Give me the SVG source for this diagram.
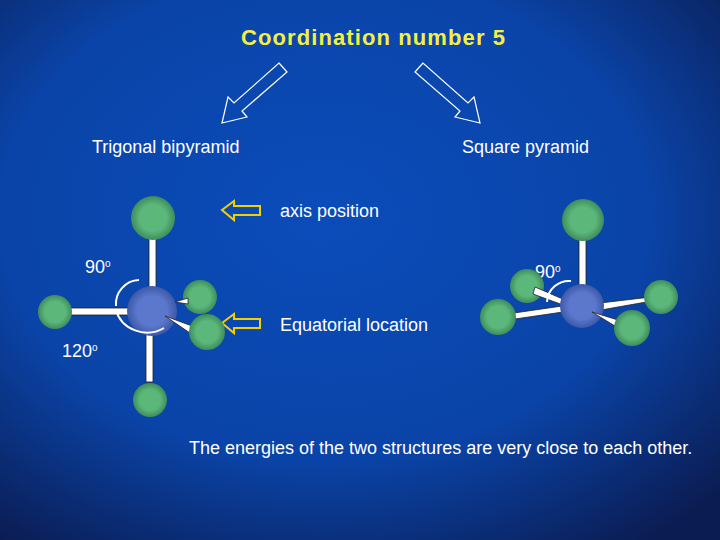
<svg xmlns="http://www.w3.org/2000/svg" width="720" height="540" viewBox="0 0 720 540">
<defs>
<radialGradient id="bg" cx="0.45" cy="0.4" r="0.75">
<stop offset="0" stop-color="#0a4cba"/><stop offset="0.6" stop-color="#0a44a8"/><stop offset="1" stop-color="#0b1c52"/>
</radialGradient>
<radialGradient id="g" cx="0.5" cy="0.5" r="0.5"><stop offset="0.6" stop-color="#5cb87a"/><stop offset="1" stop-color="#3f8c5c"/></radialGradient>
<radialGradient id="b" cx="0.5" cy="0.5" r="0.5"><stop offset="0.6" stop-color="#5c78cc"/><stop offset="1" stop-color="#3d58a8"/></radialGradient>
<style>
text{font-family:"Liberation Sans",Arial,sans-serif;fill:#fff;font-size:18px}
.title{font-size:22px;font-weight:bold;fill:#f5f040}
.bond{fill:#fff;stroke:#222;stroke-width:0.8}
.g{fill:url(#g)}.b{fill:url(#b)}
.arc{fill:none;stroke:#fff;stroke-width:2}
.ya{fill:none;stroke:#f0d000;stroke-width:2}
.wa{fill:none;stroke:#fff;stroke-width:1.2}
</style>
</defs>
<rect width="720" height="540" fill="url(#bg)"/>
<text class="title" x="241" y="45" textLength="264">Coordination number 5</text>
<g id="connectors">
<polygon class="wa" points="279,63 287,72 242,111 247,117 222,123 228,97 234,103"/>
<polygon class="wa" points="423,63 415,72 460,111 455,117 480,123 474,97 468,103"/>
<polygon class="ya" points="222,210 234,201 234,206 260,206 260,215 234,215 234,220"/>
<polygon class="ya" points="222,323 234,314 234,319 260,319 260,328 234,328 234,333"/>
</g>
<text x="92" y="153">Trigonal bipyramid</text>
<text x="462" y="153">Square pyramid</text>
<text x="280" y="217">axis position</text>
<text x="280" y="331">Equatorial location</text>
<text x="85" y="273">90<tspan font-size="10" dy="-6">o</tspan></text>
<text x="535" y="278">90<tspan font-size="10" dy="-6">o</tspan></text>
<text x="62" y="357">120<tspan font-size="10" dy="-6">o</tspan></text>
<text x="189" y="454">The energies of the two structures are very close to each other.</text>
<g id="tbp">
<circle class="g" cx="200" cy="297" r="17"/>
<rect class="bond" x="149" y="237" width="7" height="62"/>
<rect class="bond" x="70" y="308" width="60" height="7"/>
<rect class="bond" x="146" y="330" width="7" height="52"/>
<circle class="g" cx="153" cy="218" r="22"/>
<circle class="g" cx="55" cy="312" r="17"/>
<circle class="g" cx="150" cy="400" r="17"/>
<circle class="b" cx="152" cy="311" r="25"/>
<polygon class="bond" points="175,302 188,298 188,304"/>
<polygon class="bond" points="165,316 192,326 190,333"/>
<circle class="g" cx="207" cy="332" r="18"/>
<path class="arc" d="M139,280 A24,24 0 0 0 116,306"/>
<path class="arc" d="M116,310 A32,30 0 0 0 164,328"/>
</g>
<g id="sp">
<circle class="g" cx="527" cy="286" r="17"/>
<polygon class="bond" points="535,287 565,300 563,305 533,294"/>
<rect class="bond" x="579" y="238" width="7" height="50"/>
<polygon class="bond" points="514,313 562,306 563,312 515,319"/>
<polygon class="bond" points="600,303 651,297 652,301 601,310"/>
<circle class="g" cx="583" cy="220" r="21"/>
<circle class="g" cx="498" cy="317" r="18"/>
<circle class="g" cx="661" cy="297" r="17"/>
<circle class="b" cx="582" cy="306" r="22"/>
<polygon class="bond" points="592,312 618,320 615,326"/>
<circle class="g" cx="632" cy="328" r="18"/>
<path class="arc" d="M571,281 A22,22 0 0 0 547,302"/>
</g>
</svg>
